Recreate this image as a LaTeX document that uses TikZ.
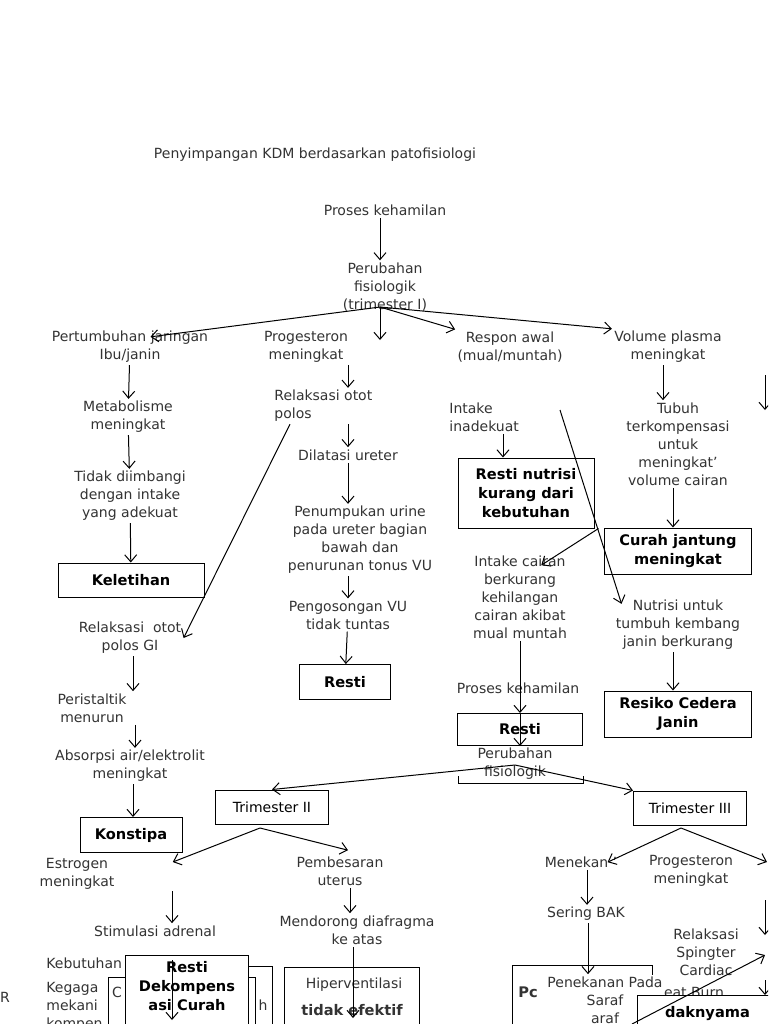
\documentclass[tikz,border=0pt]{standalone}
\usepackage{fontspec}
\setmainfont{DejaVu Sans}
\usetikzlibrary{arrows.meta}
\begin{document}
\begin{tikzpicture}[x=0.5pt,y=-0.5pt,
  txt/.style={align=center,inner sep=1pt,font=\fontsize{7}{9}\selectfont,text=black!80},
  box/.style={draw,fill=white,line width=0.5pt,align=center,inner sep=1pt,font=\bfseries\fontsize{7.3}{9.5}\selectfont},
  arr/.style={-{Straight Barb[length=3.5pt,width=6pt]},line width=0.5pt}]
\clip (0,0) rectangle (768,1024);
\fill[white] (0,0) rectangle (768,1024);

\node[txt] (title) at (315,155) {Penyimpangan KDM berdasarkan patofisiologi};
\node[txt] (proses) at (385,210) {Proses kehamilan};
\node[txt] (ubah) at (385,287) {Perubahan\\fisiologik\\(trimester I)};
\draw[arr] ([xshift=-2.5pt]proses.south) -- ([xshift=-2.5pt]ubah.north);
\coordinate (s1) at (380,307);
\node[txt] (tumbuh) at (130,347) {Pertumbuhan jaringan\\Ibu/janin};
\node[txt] (prog) at (306,347) {Progesteron\\meningkat};
\node[txt] (respon) at (510,347) {Respon awal\\(mual/muntah)};
\node[txt] (vol) at (668,347) {Volume plasma\\meningkat};
\coordinate (s1d) at (380,340);
\draw[arr] (s1) -- ([xshift=-30pt,yshift=-4pt]tumbuh.north east);
\draw[arr] (s1) -- (s1d);
\draw[arr] (s1) -- (respon.north west);
\draw[arr] (s1) -- (vol.north west);
\coordinate (e1) at (765,375); \coordinate (e2) at (765,410);
\draw[arr] (e1) -- (e2);

% trimester I kiri
\node[txt] (metab) at (128,417) {Metabolisme\\meningkat};
\node[txt] (tidak) at (130,496) {Tidak diimbangi\\dengan intake\\yang adekuat};
\node[box,minimum width=73pt,minimum height=17pt] (kelet) at (131,580) {Keletihan};
\node[txt] (relgi) at (130,638) {Relaksasi\ \ otot\\polos GI};
\node[txt] (peris) at (92,708) {Peristaltik\\menurun};
\node[txt] (absorp) at (130,766) {Absorpsi air/elektrolit\\meningkat};
\node[box,minimum width=51pt,minimum height=17.5pt] (konst) at (131,835) {Konstipa};
\draw[arr] (tumbuh) -- (metab);
\draw[arr] (metab) -- (tidak);
\draw[arr] (tidak) -- (kelet);
\draw[arr] ([xshift=1.5pt]relgi.south) -- ([xshift=1.5pt]relgi.south |- peris.north);
\draw[arr] ([xshift=2.5pt]relgi.south |- peris.south) -- ([xshift=2.5pt]relgi.south |- absorp.north);
\draw[arr] ([xshift=1.5pt]absorp.south) -- ([xshift=1.5pt]absorp.south |- konst.north);

% progesteron
\node[txt,anchor=west,align=left] (relpol) at (272,406) {Relaksasi otot\\polos};
\node[txt] (dil) at (348,455) {Dilatasi ureter};
\node[txt] (penum) at (360,540) {Penumpukan urine\\pada ureter bagian\\bawah dan\\penurunan tonus VU};
\node[txt] (peng) at (348,615) {Pengosongan VU\\tidak tuntas};
\node[box,minimum width=45.5pt,minimum height=17.5pt,anchor=north] (isk) at (345,664) {Resti};
\draw[arr] (prog.south -| dil) -- (relpol.north -| dil);
\draw[arr] ([xshift=9pt]relpol.south west) -- (relgi.east);
\draw[arr] (relpol.south -| dil) -- (dil);
\draw[arr] (dil) -- (penum.north -| dil);
\draw[arr] (penum.south -| peng) -- (peng);
\draw[arr] (peng) -- (isk);

% respon awal
\node[txt,anchor=west,align=left] (intake) at (447,417) {Intake\\inadekuat};
\node[box,minimum width=68pt,minimum height=35pt] (nutr) at (526,493) {Resti nutrisi\\kurang dari\\kebutuhan};
\node[txt] (cair) at (520,597) {Intake cairan\\berkurang\\kehilangan\\cairan akibat\\mual muntah};
\node[txt] (proses2) at (518,688) {Proses kehamilan};
\node[box,minimum width=62.5pt,minimum height=16pt,anchor=north] (kek) at (520,713) {Resti};
\draw (458,776) -- (458,783) -- (583,783) -- (583,776);
\node[txt,fill=white] (ubah2) at (515,764) {Perubahan\\fisiologik};
\draw[arr] ([xshift=28pt]intake.south west) -- ([xshift=28pt]intake.south west |- nutr.north);
\draw[arr] ([xshift=2pt]nutr.south east) -- ([xshift=-14pt,yshift=-6pt]cair.north east);
\draw[arr] (cair.south) -- (kek.north);
\draw[arr] (kek.north) -- (kek.south);

% volume plasma
\node[txt] (tubuh) at (678,444) {Tubuh\\terkompensasi\\untuk\\meningkat’\\volume cairan};
\node[box,minimum width=73.5pt,minimum height=23pt] (curah) at (678,551) {Curah jantung\\meningkat};
\node[txt] (nutrjan) at (678,625) {Nutrisi untuk\\tumbuh kembang\\janin berkurang};
\node[box,minimum width=73.5pt,minimum height=23pt] (cedera) at (678,714) {Resiko Cedera\\Janin};
\coordinate (d1) at (560,410);
\draw[arr] (d1) -- ([xshift=4pt,yshift=-3pt]nutrjan.north west);
\draw[arr] ([xshift=-2.5pt]vol.south) -- ([xshift=-2.5pt]vol.south |- tubuh.north);
\draw[arr] ([xshift=-2.5pt]tubuh.south) -- ([xshift=-2.5pt]tubuh.south |- curah.north);
\draw[arr] ([xshift=-2.5pt]nutrjan.south) -- ([xshift=-2.5pt]nutrjan.south |- cedera.north);

% trimester II dan III
\node[box,font=\fontsize{7}{9}\selectfont,minimum width=56.5pt,minimum height=17pt] (tri2) at (272,807) {Trimester II};
\node[box,font=\fontsize{7}{9}\selectfont,minimum width=56.5pt,minimum height=17pt] (tri3) at (690,808) {Trimester III};
\coordinate (s2) at (515,765);
\draw[arr] (s2) -- (tri2.north);
\draw[arr] (s2) -- (tri3.north west);

\node[txt] (estro) at (77,874) {Estrogen\\meningkat};
\node[txt] (pemb) at (340,871) {Pembesaran\\uterus};
\node[txt] (stim) at (155,931) {Stimulasi adrenal};
\node[txt] (mend) at (357,930) {Mendorong diafragma\\ke atas};
\coordinate (a2) at (260,828);
\draw[arr] (a2) -- ([xshift=28pt,yshift=-3pt]estro.north east);
\draw[arr] (a2) -- ([xshift=4pt,yshift=2pt]pemb.north);
\draw[arr] ([xshift=8.5pt,yshift=16pt]stim.north) -- ([xshift=8.5pt]stim.north);
\draw[arr] ([xshift=5pt]pemb.south) -- ([xshift=5pt]pemb.south |- mend.north);

\node[txt] (r) at (5,997) {R};
\node[txt,anchor=north west,align=left] (keb) at (44,955) {Kebutuhan\\[3pt]Kegaga\\mekani\\kompen};
\node[box,minimum width=67.5pt,minimum height=40pt,anchor=north west] (bk1) at (137,966) {};
\node[txt] at (263,1005) {h};
\node[box,minimum width=73.5pt,minimum height=30pt,anchor=north west] (bk2) at (108,977) {};
\node[txt] at (117,992) {C};
\node[box,minimum width=61.5pt,minimum height=40pt,anchor=north,anchor=north] (resti) at (187,955) {Resti\\Dekompens\\asi Curah\\ };
\coordinate (b1) at (172,960); \coordinate (b2) at (172,1020);
\draw[arr] (b1) -- (b2);

\node[box,minimum width=67.5pt,minimum height=30pt,anchor=north] (hyper) at (352,967) {};
\node[txt,fill=white] (hyp) at (354,985) {Hiperventilasi};
\node[txt,font=\bfseries\fontsize{7.3}{9}\selectfont] (tdk) at (352,1010) {tidak efektif};
\draw[arr] ([xshift=-2pt]mend.south) -- ([xshift=-2pt]mend.south |- tdk.south);

% trimester III
\node[txt] (menek) at (581,862) {Menekan '};
\node[txt] (prog3) at (691,871) {Progesteron\\meningkat};
\node[txt] (sering) at (586,914) {Sering BAK};
\coordinate (a3) at (681,828);
\coordinate (e3) at (767,862);
\draw[arr] (a3) -- ([xshift=-6pt,yshift=-4pt]menek.north east);
\draw[arr] (a3) -- (e3);
\draw[arr] ([xshift=3pt]menek.south) -- ([xshift=3pt]menek.south |- sering.north);
\node[box,minimum width=70pt,minimum height=35pt,anchor=north west] (po) at (512,965) {};
\node[txt,font=\bfseries\fontsize{7.3}{9}\selectfont] at (528,992) {Pc};
\node[txt,fill=white] (pen) at (605,1000) {Penekanan Pada\\Saraf\\araf};
\draw[arr] ([xshift=1pt]sering.south) -- ([xshift=1pt]sering.south |- pen.north);
\coordinate (e4) at (765,900); \coordinate (e5) at (765,935);
\draw[arr] (e4) -- (e5);
\node[txt] (spin) at (706,952) {Relaksasi\\Spingter\\Cardiac};
\node[txt] (burn) at (694,992) {eat Burn};
\coordinate (e6) at (765,980); \coordinate (e7) at (765,995);
\draw[arr] (e6) -- (e7);
\node[box,minimum width=70pt,minimum height=18pt,anchor=north west] (dak) at (637,995) {daknyama};
\coordinate (f1) at (632,1024); \coordinate (f2) at (765,955);
\draw[arr] (f1) -- (f2);
\end{tikzpicture}
\end{document}
